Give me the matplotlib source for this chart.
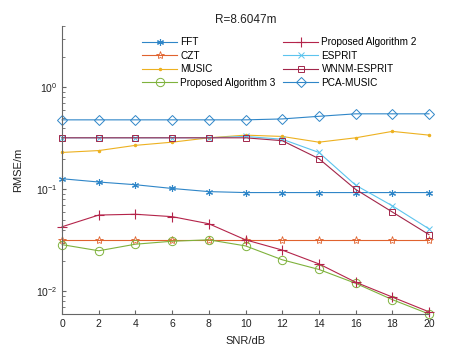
import matplotlib
matplotlib.use('Agg')
import matplotlib.pyplot as plt
import numpy as np

plt.rcParams['font.family'] = ['Liberation Sans', 'DejaVu Sans']

# SNR 축
snr = [0, 2, 4, 6, 8, 10, 12, 14, 16, 18, 20]

# 각 알고리즘의 RMSE
fft = [0.127, 0.118, 0.111, 0.102, 0.095, 0.093, 0.093, 0.093, 0.093, 0.093, 0.093]
czt = [0.032, 0.032, 0.032, 0.032, 0.032, 0.032, 0.032, 0.032, 0.032, 0.032, 0.032]
music = [0.23, 0.24, 0.27, 0.29, 0.32, 0.34, 0.33, 0.29, 0.32, 0.37, 0.34]
prop3 = [0.0287, 0.025, 0.029, 0.031, 0.032, 0.0279, 0.0204, 0.0164, 0.012, 0.0083, 0.006]
prop2 = [0.043, 0.056, 0.057, 0.054, 0.046, 0.032, 0.0254, 0.0186, 0.0123, 0.0088, 0.0063]
esprit = [0.32, 0.32, 0.32, 0.32, 0.32, 0.33, 0.31, 0.23, 0.11, 0.069, 0.041]
wnnm = [0.32, 0.32, 0.32, 0.32, 0.32, 0.32, 0.30, 0.20, 0.10, 0.060, 0.036]
pca_music = [0.48, 0.48, 0.48, 0.48, 0.48, 0.48, 0.49, 0.52, 0.55, 0.55, 0.55]

labels = ['FFT', 'CZT', 'MUSIC', 'Proposed Algorithm 3',
          'Proposed Algorithm 2', 'ESPRIT', 'WNNM-ESPRIT', 'PCA-MUSIC']

fig = plt.figure(figsize=(4.74, 3.55), dpi=100)
ax = fig.add_axes([0.131, 0.1155, 0.774, 0.8115])

lw = 0.8
ms = 5
common = dict(lw=lw, clip_on=False)
ax.plot(snr, fft, color='#2f86c8', marker=(6, 2, 0), ms=ms, mew=0.8, label=labels[0], **common)
ax.plot(snr, czt, color='#e0622e', marker='*', ms=ms + 1, mfc='none', mew=0.6, label=labels[1], **common)
ax.plot(snr, music, color='#edb120', marker='.', ms=3, label=labels[2], **common)
ax.plot(snr, prop3, color='#7fb23c', marker='o', ms=ms + 1, mfc='none', mew=0.7, label=labels[3], **common)
ax.plot(snr, prop2, color='#b4244a', marker='+', ms=ms + 2, mew=0.8, label=labels[4], **common)
ax.plot(snr, esprit, color='#5cc4ee', marker='x', ms=ms - 1, mew=0.7, label=labels[5], **common)
ax.plot(snr, wnnm, color='#a2264a', marker='s', ms=ms, mfc='none', mew=0.7, label=labels[6], **common)
ax.plot(snr, pca_music, color='#2f86c8', marker='D', ms=ms, mfc='none', mew=0.7, label=labels[7], **common)

ax.set_yscale('log')
ax.set_ylim(0.006, 4)
ax.set_xlim(0, 20)
ax.set_xticks(snr)

# MATLAB 스타일 축
for side in ['top', 'right']:
    ax.spines[side].set_visible(False)
for side in ['left', 'bottom']:
    ax.spines[side].set_color('#666666')
    ax.spines[side].set_linewidth(0.8)
ax.tick_params(which='both', direction='in', colors='#666666', labelcolor='#222222', labelsize=7.5)
ax.tick_params(which='major', length=3)
ax.tick_params(which='minor', length=1.8)

ax.set_title('R=8.6047m', fontsize=8.5, color='#222222', pad=1.5)
ax.set_xlabel('SNR/dB', fontsize=8, color='#222222', labelpad=5)
ax.set_ylabel('RMSE/m', fontsize=8, color='#222222', labelpad=9)

ax.legend(ncol=2, frameon=False, fontsize=7.2, loc='upper left',
          bbox_to_anchor=(0.285, 0.915), bbox_transform=fig.transFigure,
          handlelength=3.5, handletextpad=0.3, columnspacing=0.8,
          labelspacing=0.35, borderpad=0.2)

plt.savefig('out.png', dpi=100)
